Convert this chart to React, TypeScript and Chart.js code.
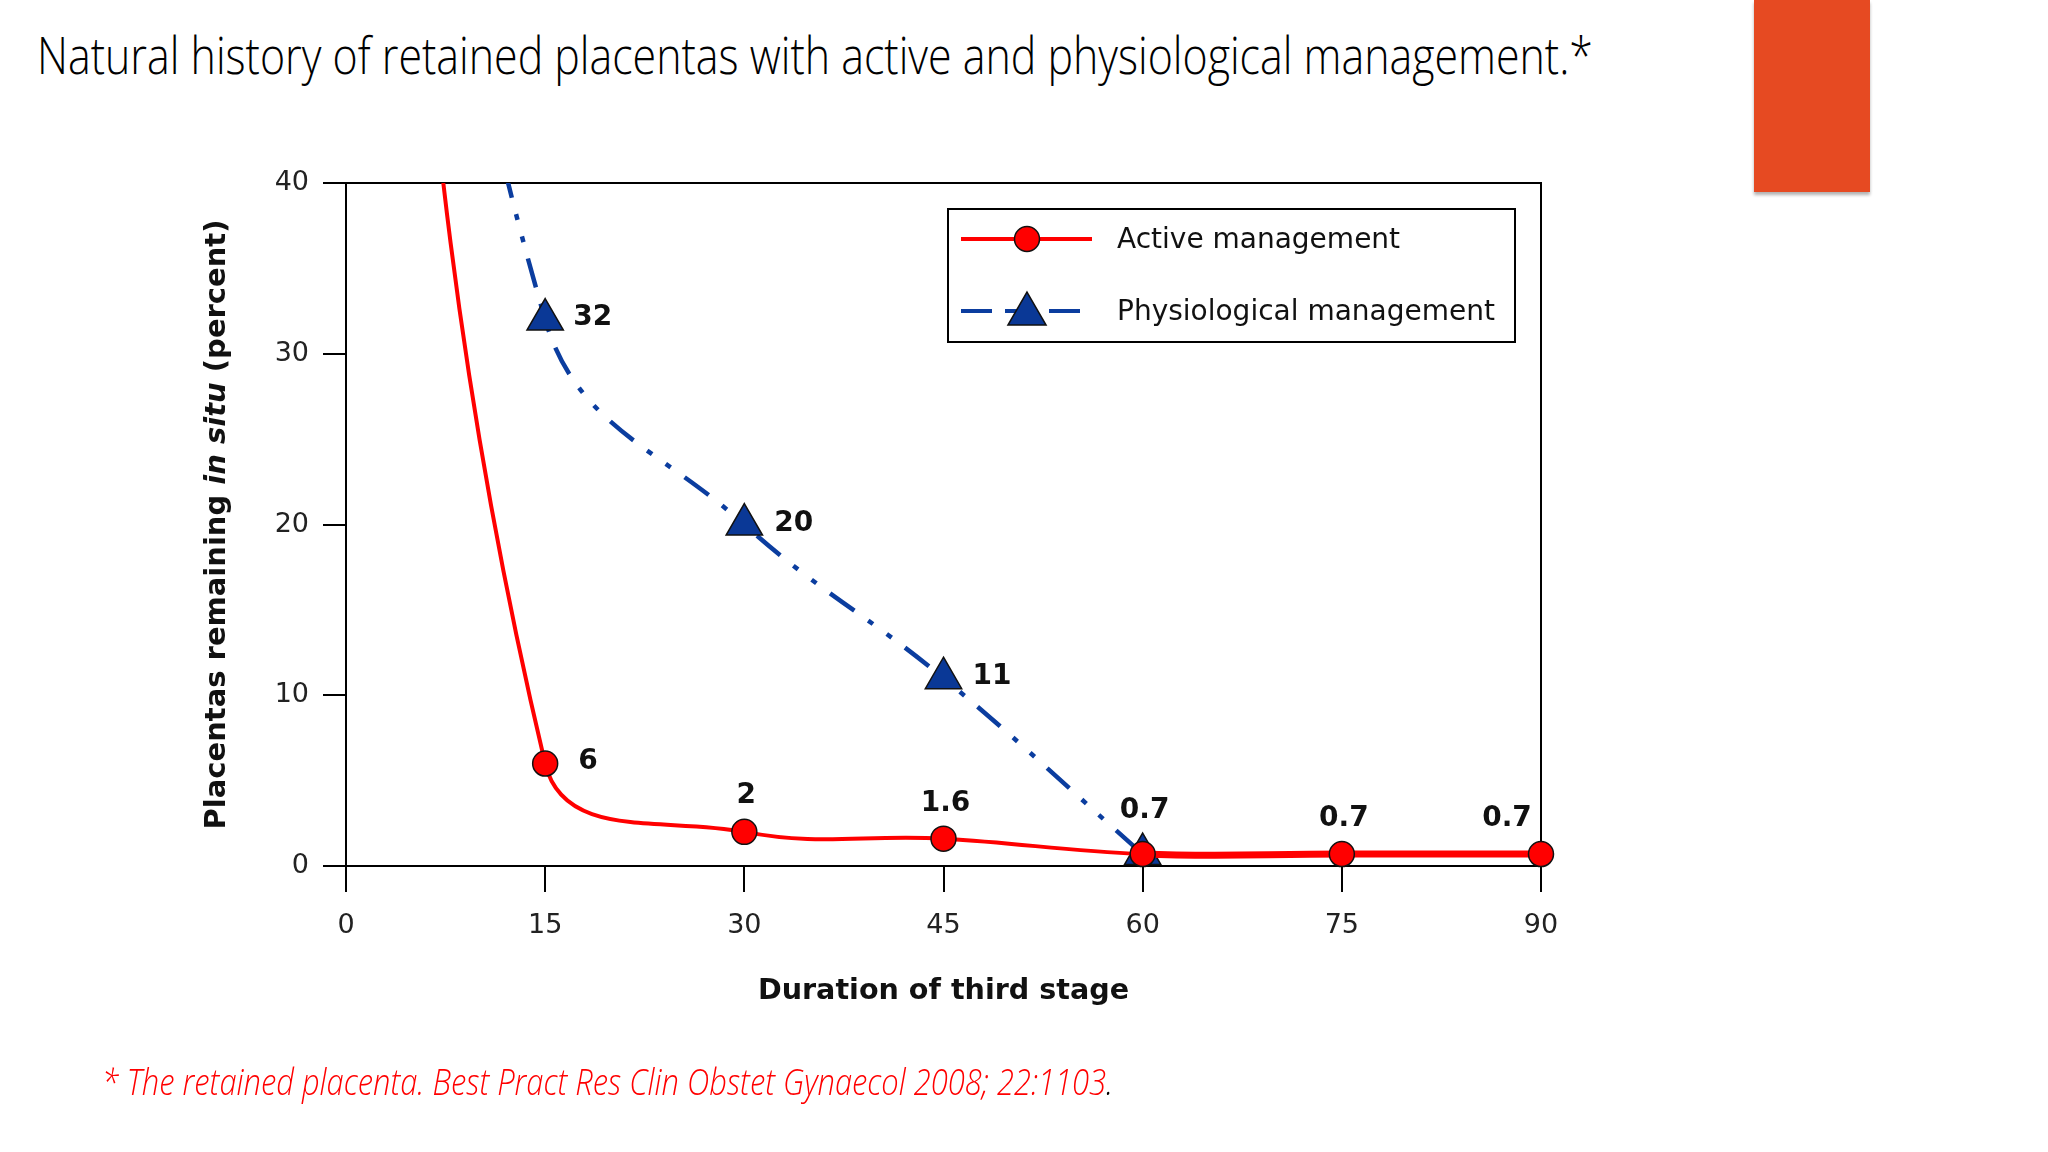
import React, { useEffect, useLayoutEffect, useRef } from "react";
import { Chart, registerables } from "chart.js";

Chart.register(...registerables);

// Minutes after delivery of the baby
const minutes = [0, 15, 30, 45, 60, 75, 90];
// Percentage of placentas still in situ at each time
const activeManagement = [100, 6, 2, 1.6, 0.7, 0.7, 0.7];
const physiologicalManagement = [100, 32, 20, 11, 0.7];

const xTickValues = [0, 15, 30, 45, 60, 75, 90];
const yTickValues = [0, 10, 20, 30, 40];

const seriesNames = ["Active management", "Physiological management"];
const titleText =
  "Natural history of retained placentas with active and physiological management.*";
const footnoteText =
  "* The retained placenta. Best Pract Res Clin Obstet Gynaecol 2008; 22:1103";
const xAxisTitle = "Duration of third stage";
const yAxisTitleParts = [
  { text: "Placentas remaining ", italic: false },
  { text: "in situ", italic: true },
  { text: " (percent)", italic: false },
];

// Value label placement per point: [dx, dy, textAlign]; null means no label
type Offset = [number, number, CanvasTextAlign] | null;
const activeLabelOffsets: Offset[] = [
  null,
  [33, -2, "left"],
  [2, -36, "center"],
  [2, -35, "center"],
  [2, -43, "center"],
  [2, -35, "center"],
  [-34, -35, "center"],
];
const physiologicalLabelOffsets: Offset[] = [
  null,
  [28, -2, "left"],
  [30, -1, "left"],
  [29, -1, "left"],
  null,
];

// Page and plot geometry
const PAGE_W = 2048;
const PAGE_H = 1152;
const PLOT = { left: 346, top: 183, right: 1541, bottom: 866 };

const RED = "#ff0000";
const BLUE_LINE = "#0b3d9f";
const BLUE_FILL = "#0a3896";
const INK = "#111111";
const FONT = '"DejaVu Sans", Verdana, sans-serif';

const toPoints = (ys: number[]) => ys.map((y, i) => ({ x: minutes[i], y }));

const framePlugin = {
  id: "frame",
  beforeDatasetsDraw(chart: any) {
    const { ctx, chartArea: a } = chart;
    ctx.save();
    ctx.strokeStyle = "#000";
    ctx.lineWidth = 2;
    ctx.beginPath();
    ctx.moveTo(a.left, a.top);
    ctx.lineTo(a.right, a.top);
    ctx.lineTo(a.right, a.bottom);
    ctx.stroke();
    ctx.restore();
  },
};

const valueLabelPlugin = {
  id: "valueLabels",
  afterDatasetsDraw(chart: any, _args: any, opts: any) {
    const { ctx } = chart;
    ctx.save();
    ctx.font = `bold 28px ${FONT}`;
    ctx.fillStyle = INK;
    ctx.textBaseline = "middle";
    chart.data.datasets.forEach((ds: any, di: number) => {
      const meta = chart.getDatasetMeta(di);
      const offsets: Offset[] = opts.offsets[di] || [];
      meta.data.forEach((pt: any, i: number) => {
        const off = offsets[i];
        if (!off) return;
        const v = ds.data[i].y;
        ctx.textAlign = off[2];
        ctx.fillText(String(v), pt.x + off[0], pt.y + off[1]);
      });
    });
    ctx.restore();
  },
};

const yTitlePlugin = {
  id: "yTitle",
  afterDraw(chart: any) {
    const { ctx, chartArea: a } = chart;
    const fontFor = (italic: boolean) => `${italic ? "italic " : ""}bold 29px ${FONT}`;
    ctx.save();
    ctx.translate(a.left - 129, (a.top + a.bottom) / 2);
    ctx.rotate(-Math.PI / 2);
    ctx.fillStyle = INK;
    ctx.textBaseline = "middle";
    ctx.textAlign = "left";
    let total = 0;
    const widths = yAxisTitleParts.map((p) => {
      ctx.font = fontFor(p.italic);
      const w = ctx.measureText(p.text).width;
      total += w;
      return w;
    });
    let x = -total / 2;
    yAxisTitleParts.forEach((p, i) => {
      ctx.font = fontFor(p.italic);
      ctx.fillText(p.text, x, 0);
      x += widths[i];
    });
    ctx.restore();
  },
};

function drawTriangle(ctx: CanvasRenderingContext2D, x: number, y: number, r: number) {
  ctx.beginPath();
  for (let k = 0; k < 3; k++) {
    const ang = (k * 2 * Math.PI) / 3;
    const px = x + Math.sin(ang) * r;
    const py = y - Math.cos(ang) * r;
    if (k === 0) ctx.moveTo(px, py);
    else ctx.lineTo(px, py);
  }
  ctx.closePath();
}

const legendBoxPlugin = {
  id: "legendBox",
  afterDraw(chart: any) {
    const { ctx } = chart;
    const box = { x: 948, y: 209, w: 567, h: 133 };
    ctx.save();
    ctx.fillStyle = "#fff";
    ctx.fillRect(box.x, box.y, box.w, box.h);
    ctx.strokeStyle = "#000";
    ctx.lineWidth = 2;
    ctx.strokeRect(box.x, box.y, box.w, box.h);
    chart.data.datasets.forEach((ds: any, i: number) => {
      const cy = 239 + i * 72;
      const x0 = 961;
      const x1 = 1092;
      const mx = 1027;
      ctx.strokeStyle = ds.borderColor;
      ctx.lineWidth = 4;
      ctx.setLineDash(ds.borderDash && ds.borderDash.length ? [31, 13] : []);
      ctx.beginPath();
      ctx.moveTo(x0, cy);
      ctx.lineTo(x1, cy);
      ctx.stroke();
      ctx.setLineDash([]);
      ctx.fillStyle = ds.pointBackgroundColor;
      ctx.strokeStyle = INK;
      ctx.lineWidth = 1.5;
      if (ds.pointStyle === "triangle") {
        drawTriangle(ctx, mx, cy + 3, 22);
      } else {
        ctx.beginPath();
        ctx.arc(mx, cy, 12.5, 0, Math.PI * 2);
      }
      ctx.fill();
      ctx.stroke();
      ctx.fillStyle = INK;
      ctx.font = `28px ${FONT}`;
      ctx.textAlign = "left";
      ctx.textBaseline = "middle";
      ctx.fillText(ds.label, 1117, cy + 2);
    });
    ctx.restore();
  },
};

function ChartPanel() {
  const canvasRef = useRef<HTMLCanvasElement>(null);

  useEffect(() => {
    const canvas = canvasRef.current;
    if (!canvas) return;
    const chart = new Chart(canvas, {
      type: "line",
      data: {
        datasets: [
          {
            label: seriesNames[0],
            data: toPoints(activeManagement),
            borderColor: RED,
            borderWidth: 4,
            tension: 0.4,
            pointStyle: "circle",
            pointRadius: (c: any) => (c.dataIndex === 0 ? 0 : 12.5),
            pointBackgroundColor: RED,
            pointBorderColor: INK,
            pointBorderWidth: 1.5,
            clip: { left: 0, top: 0, right: 30, bottom: 30 },
            segment: {
              borderWidth: (c: any) => (c.p0DataIndex >= 4 ? 7 : 4),
            },
          } as any,
          {
            label: seriesNames[1],
            data: toPoints(physiologicalManagement),
            borderColor: BLUE_LINE,
            borderWidth: 4.5,
            borderDash: [30, 17, 6, 17, 6, 17],
            tension: 0.4,
            pointStyle: "triangle",
            pointRadius: (c: any) => (c.dataIndex === 0 ? 0 : 21),
            pointBackgroundColor: BLUE_FILL,
            pointBorderColor: INK,
            pointBorderWidth: 1.5,
            clip: { left: 0, top: 0, right: 30, bottom: 30 },
          } as any,
        ],
      },
      options: {
        responsive: false,
        animation: false,
        events: [],
        devicePixelRatio: 1,
        layout: {
          padding: { left: 0, top: PLOT.top, right: PAGE_W - PLOT.right, bottom: 0 },
        },
        elements: { line: { capBezierPoints: false } },
        plugins: {
          legend: { display: false },
          tooltip: { enabled: false },
          valueLabels: { offsets: [activeLabelOffsets, physiologicalLabelOffsets] },
        } as any,
        scales: {
          x: {
            type: "linear",
            min: xTickValues[0],
            max: xTickValues[xTickValues.length - 1],
            afterBuildTicks: (scale: any) => {
              scale.ticks = xTickValues.map((value) => ({ value }));
            },
            afterFit: (scale: any) => {
              scale.height = PAGE_H - PLOT.bottom;
            },
            grid: {
              drawOnChartArea: false,
              drawTicks: true,
              tickLength: 26,
              color: "#000",
              lineWidth: 2,
            },
            border: { display: true, color: "#000", width: 2 },
            ticks: {
              color: "#222",
              font: { family: FONT, size: 27 },
              padding: 18,
              maxRotation: 0,
            },
            title: {
              display: true,
              text: xAxisTitle,
              color: INK,
              font: { family: FONT, size: 28.6, weight: "bold" },
              padding: { top: 0, bottom: 143 },
            },
          },
          y: {
            type: "linear",
            min: yTickValues[0],
            max: yTickValues[yTickValues.length - 1],
            afterBuildTicks: (scale: any) => {
              scale.ticks = yTickValues.map((value) => ({ value }));
            },
            afterFit: (scale: any) => {
              scale.width = PLOT.left;
            },
            grid: {
              drawOnChartArea: false,
              drawTicks: true,
              tickLength: 23,
              color: "#000",
              lineWidth: 2,
            },
            border: { display: true, color: "#000", width: 2 },
            ticks: {
              color: "#222",
              font: { family: FONT, size: 27 },
              padding: 14,
            },
          },
        },
      },
      plugins: [framePlugin, valueLabelPlugin, yTitlePlugin, legendBoxPlugin],
    });
    return () => chart.destroy();
  }, []);

  return (
    <canvas
      ref={canvasRef}
      width={PAGE_W}
      height={PAGE_H}
      style={{ position: "absolute", left: 0, top: 0, width: PAGE_W, height: PAGE_H }}
    />
  );
}

// Single-line text squeezed horizontally to a given width
function FittedText(props: {
  left: number;
  top: number;
  width: number;
  style: React.CSSProperties;
  children: React.ReactNode;
}) {
  const ref = useRef<HTMLSpanElement>(null);
  useLayoutEffect(() => {
    const fit = () => {
      const el = ref.current;
      if (!el) return;
      el.style.transform = "none";
      const natural = el.getBoundingClientRect().width;
      if (natural > 0) el.style.transform = `scaleX(${props.width / natural})`;
    };
    fit();
    if ((document as any).fonts && (document as any).fonts.ready) {
      (document as any).fonts.ready.then(fit);
    }
  }, [props.width]);
  return (
    <span
      ref={ref}
      style={{
        position: "absolute",
        left: props.left,
        top: props.top,
        display: "inline-block",
        whiteSpace: "nowrap",
        transformOrigin: "0 0",
        lineHeight: 1,
        ...props.style,
      }}
    >
      {props.children}
    </span>
  );
}

export default function App() {
  return (
    <div
      style={{
        position: "fixed",
        left: 0,
        top: 0,
        width: PAGE_W,
        height: PAGE_H,
        background: "#ffffff",
        overflow: "hidden",
      }}
    >
      <FittedText
        left={37}
        top={28}
        width={1556}
        style={{ fontFamily: '"Open Sans", sans-serif', fontWeight: 300, fontSize: 52, color: "#000" }}
      >
        {titleText}
      </FittedText>
      <div
        style={{
          position: "absolute",
          left: 1754,
          top: 0,
          width: 116,
          height: 192,
          background: "#e64a22",
          boxShadow: "0 3px 3px rgba(0,0,0,0.3)",
        }}
      />
      <ChartPanel />
      <FittedText
        left={102}
        top={1064}
        width={1011}
        style={{
          fontFamily: '"Open Sans", sans-serif',
          fontStyle: "italic",
          fontWeight: 300,
          fontSize: 36,
          color: "#ff0000",
        }}
      >
        {footnoteText}
        <span style={{ color: "#000" }}>.</span>
      </FittedText>
    </div>
  );
}
